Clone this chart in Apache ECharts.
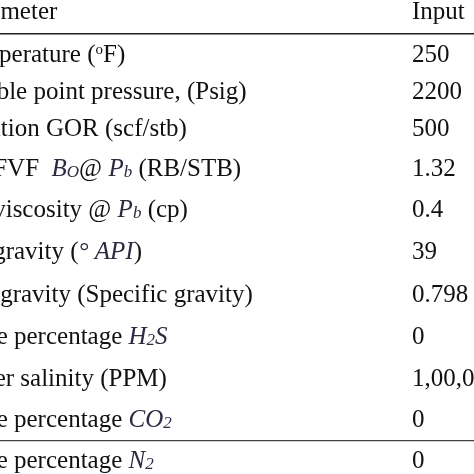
<!DOCTYPE html>
<html>
<head>
<meta charset="utf-8">
<script src="https://cdn.jsdelivr.net/npm/echarts@6/dist/echarts.min.js"></script>
<style>html,body{margin:0;padding:0;background:#fff}#chart{width:474px;height:474px}</style>
</head>
<body>
<div id="chart"></div>
<script>
// table rows: parameter label (rich text) and input value
var header = ['Parameter', 'Input'];
var params = [
    'Temperature ({sup|o}F)',
    'Bubble point pressure, (Psig)',
    'Solution GOR (scf/stb)',
    'Oil FVF  {m|B}{sub|O}@ {m|P}{sub|b} (RB/STB)',
    'Oil viscosity @ {m|P}{sub|b} (cp)',
    'Oil gravity ({m|° API})',
    'Gas gravity (Specific gravity)',
    'Mole percentage {m|H}{sub|2}{m|S}',
    'Water salinity (PPM)',
    'Mole percentage {m|CO}{sub|2}',
    'Mole percentage {m|N}{sub|2}'
];
var values = ['250', '2200', '500', '1.32', '0.4', '39', '0.798', '0', '1,00,000', '0', '0'];
var rowY = [55, 92, 129, 169, 210, 252, 295, 337, 379, 420, 461];

var font = '"Liberation Serif", "DejaVu Serif", serif';
var rich = {
    sup: {fontSize: 15, fontFamily: font, fill: '#111', verticalAlign: 'top'},
    m: {fontSize: 25, fontFamily: font, fontStyle: 'italic', fill: '#2a2a40'},
    sub: {fontSize: 17, fontFamily: font, fontStyle: 'italic', fill: '#2a2a40', verticalAlign: 'bottom'}
};

var myChart = echarts.init(document.getElementById('chart'));
var elements = [];
elements.push({type: 'text', x: -44, y: 12, style: {text: header[0], font: '25px ' + font, fill: '#111', verticalAlign: 'middle'}});
elements.push({type: 'text', x: 412, y: 12, style: {text: header[1], font: '25px ' + font, fill: '#111', verticalAlign: 'middle'}});
elements.push({type: 'rect', shape: {x: 0, y: 33, width: 474, height: 1.5}, style: {fill: '#222'}});
elements.push({type: 'rect', shape: {x: 0, y: 440, width: 474, height: 1.2}, style: {fill: '#444'}});
for (var i = 0; i < params.length; i++) {
    elements.push({
        type: 'text', x: -45, y: rowY[i],
        style: {text: params[i], font: '25px ' + font, fill: '#111', verticalAlign: 'middle', rich: rich}
    });
    elements.push({
        type: 'text', x: 412, y: rowY[i],
        style: {text: values[i], font: '25px ' + font, fill: '#111', verticalAlign: 'middle'}
    });
}
myChart.setOption({backgroundColor: '#fff', graphic: {elements: elements}});
</script>
</body>
</html>
